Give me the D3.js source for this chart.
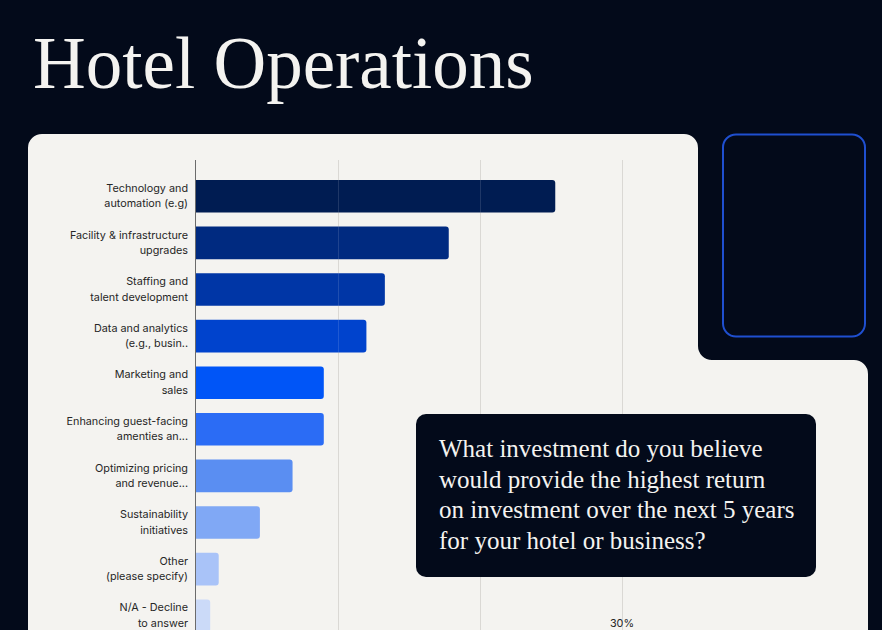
<!DOCTYPE html>
<html>
<head>
<meta charset="utf-8">
<script src="https://cdn.jsdelivr.net/npm/d3@7"></script>
<style>
  body { margin: 0; background: #030a1a; }
  svg { display: block; }
</style>
</head>
<body>
<div class="vis-holder"></div>
<script>
// answers, top to bottom (two lines each)
var categories = [
  ["Technology and", "automation (e.g)"],
  ["Facility & infrastructure", "upgrades"],
  ["Staffing and", "talent development"],
  ["Data and analytics", "(e.g., busin.."],
  ["Marketing and", "sales"],
  ["Enhancing guest-facing", "amenties an..."],
  ["Optimizing pricing", "and revenue..."],
  ["Sustainability", "initiatives"],
  ["Other", "(please specify)"],
  ["N/A - Decline", "to answer"]
];
// share of respondents, %
var values = [25.3, 17.8, 13.3, 12.0, 9.0, 9.0, 6.8, 4.5, 1.6, 1.0];
var barColors = ["#001c52", "#002a80", "#0036a6", "#0043cd", "#0055f7", "#2b6cf5",
                 "#5a8ef2", "#80a8f5", "#a9c3f8", "#cbdaf8"];
var tickValues = [10, 20, 30];
var tickLabels = ["", "", "30%"];

var title = "Hotel Operations";
var question = ["What investment do you believe", "would provide the highest return",
                "on investment over the next 5 years", "for your hotel or business?"];

var width = 882;
var height = 630;

var svg = d3.select(".vis-holder")
      .append("svg")
      .attr("width", width)
      .attr("height", height);

svg.append("rect")
    .attr("width", width)
    .attr("height", height)
    .attr("fill", "#030a1a");

// title
svg.append("text")
    .attr("x", 33)
    .attr("y", 88)
    .attr("fill", "#f4f3f0")
    .style("font-family", "'Liberation Serif', serif")
    .style("font-size", "73px")
    .text(title);

// light panel with the notch on the upper right
var r = 14;
var panel = "M" + 28 + "," + (134 + r) +
  " A" + r + "," + r + " 0 0 1 " + (28 + r) + "," + 134 +
  " L" + (698 - r) + "," + 134 +
  " A" + r + "," + r + " 0 0 1 " + 698 + "," + (134 + r) +
  " L" + 698 + "," + (360 - r) +
  " A" + r + "," + r + " 0 0 0 " + (698 + r) + "," + 360 +
  " L" + (868 - r) + "," + 360 +
  " A" + r + "," + r + " 0 0 1 " + 868 + "," + (360 + r) +
  " L868,640 L28,640 Z";
svg.append("path")
    .attr("d", panel)
    .attr("fill", "#f4f3f0");

// outlined box in the notch
svg.append("rect")
    .attr("x", 723)
    .attr("y", 134.5)
    .attr("width", 142)
    .attr("height", 202)
    .attr("rx", 13)
    .attr("fill", "none")
    .attr("stroke", "#1f4fcf")
    .attr("stroke-width", 2);

var xScale = d3.scaleLinear()
    .domain([0, 30])
    .range([196, 622]);

var yScale = d3.scaleBand()
    .domain(d3.range(categories.length))
    .range([173, 639])
    .paddingInner(0.3)
    .paddingOuter(0.15);

// gridlines
svg.append("g")
    .selectAll("line")
    .data(tickValues)
    .join("line")
    .attr("x1", function(d){ return xScale(d) + 0.5; })
    .attr("x2", function(d){ return xScale(d) + 0.5; })
    .attr("y1", 160)
    .attr("y2", height)
    .attr("stroke", "#d5d3cf")
    .attr("stroke-width", 1);

// bars (square on the axis side, rounded at the end)
svg.append("g")
    .selectAll("path")
    .data(values)
    .join("path")
    .attr("fill", function(d, i){ return barColors[i]; })
    .attr("d", function(d, i){
      var x0 = xScale(0), x1 = xScale(d), y0 = yScale(i), h = yScale.bandwidth(), c = 3;
      return "M" + x0 + "," + y0 + " L" + (x1 - c) + "," + y0 +
        " Q" + x1 + "," + y0 + " " + x1 + "," + (y0 + c) +
        " L" + x1 + "," + (y0 + h - c) +
        " Q" + x1 + "," + (y0 + h) + " " + (x1 - c) + "," + (y0 + h) +
        " L" + x0 + "," + (y0 + h) + " Z";
    });

// faint grid over the bars
svg.append("g")
    .selectAll("line")
    .data(tickValues)
    .join("line")
    .attr("x1", function(d){ return xScale(d) + 0.5; })
    .attr("x2", function(d){ return xScale(d) + 0.5; })
    .attr("y1", 160)
    .attr("y2", height)
    .attr("stroke", "#ffffff")
    .attr("stroke-opacity", 0.12);

// y axis line
svg.append("line")
    .attr("x1", xScale(0) - 0.5)
    .attr("x2", xScale(0) - 0.5)
    .attr("y1", 160)
    .attr("y2", height)
    .attr("stroke", "#6b6b6b")
    .attr("stroke-width", 1);

// category labels
var labels = svg.append("g")
    .selectAll("text")
    .data(categories)
    .join("text")
    .attr("x", 188)
    .attr("y", function(d, i){ return yScale(i) + yScale.bandwidth() / 2; })
    .attr("text-anchor", "end")
    .attr("fill", "#262626")
    .style("font-family", "Inter, sans-serif")
    .style("font-size", "10.8px");

labels.selectAll("tspan")
    .data(function(d){ return d; })
    .join("tspan")
    .attr("x", 188)
    .attr("dy", function(d, j){ return j === 0 ? "-0.4em" : "1.42em"; })
    .text(function(d){ return d; });

// tick labels
svg.append("g")
    .selectAll("text")
    .data(tickValues)
    .join("text")
    .attr("x", function(d){ return xScale(d); })
    .attr("y", 627)
    .attr("text-anchor", "middle")
    .attr("fill", "#262626")
    .style("font-family", "Inter, sans-serif")
    .style("font-size", "10.8px")
    .text(function(d, i){ return tickLabels[i]; });

// question card
svg.append("rect")
    .attr("x", 416)
    .attr("y", 414)
    .attr("width", 400)
    .attr("height", 163)
    .attr("rx", 10)
    .attr("fill", "#030a1a");

svg.append("text")
    .attr("fill", "#f4f3f0")
    .style("font-family", "'Liberation Serif', serif")
    .style("font-size", "25px")
    .selectAll("tspan")
    .data(question)
    .join("tspan")
    .attr("x", 439)
    .attr("y", function(d, i){ return 457 + i * 30.5; })
    .text(function(d){ return d; });
</script>
</body>
</html>
